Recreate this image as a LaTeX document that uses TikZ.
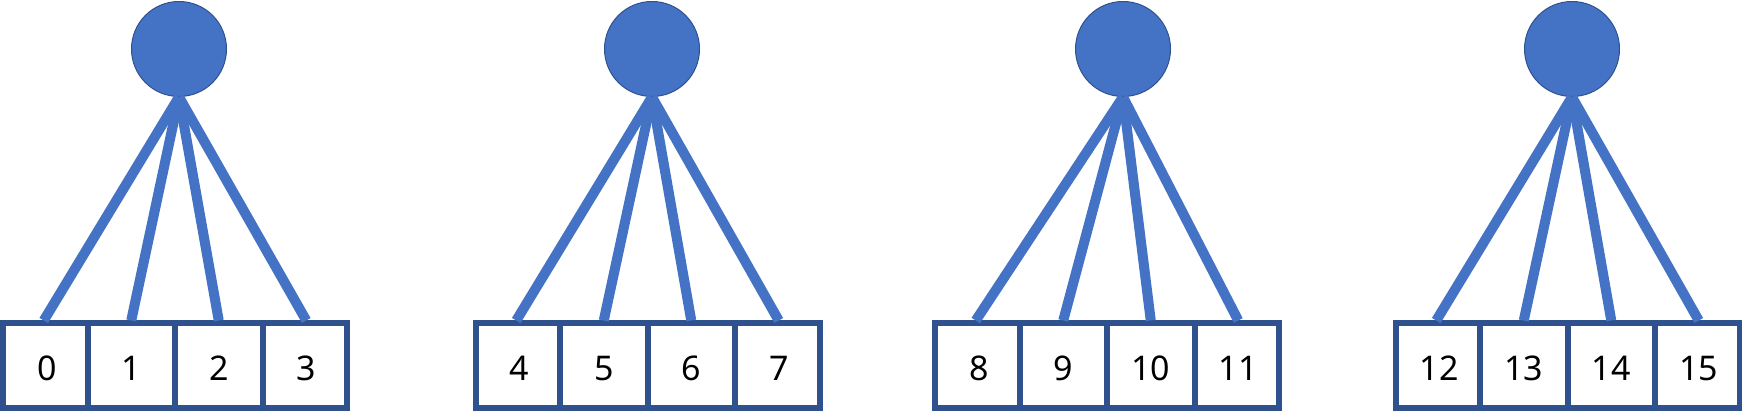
\documentclass[tikz,border=0pt]{standalone}
\usepackage{fontspec}
\setmainfont{Noto Sans}
\usetikzlibrary{shapes.multipart,positioning}
\definecolor{nodeblue}{HTML}{4472C4}
\definecolor{edgeblue}{HTML}{2F528F}
\newcommand\cellstrut{\rule[-28pt]{0pt}{85pt}}

\begin{document}
\begin{tikzpicture}[x=1pt, y=1pt,
    root/.style={circle, fill=nodeblue, draw=edgeblue, line width=1pt,
                 minimum size=95pt, inner sep=0pt},
    arraybox/.style={rectangle split, rectangle split horizontal,
                  rectangle split parts=4, draw=edgeblue, line width=6pt,
                  text width=81.5pt, inner sep=0pt, align=center,
                  font=\fontsize{34}{40}\selectfont},
    link/.style={nodeblue, line width=10pt}]
  \useasboundingbox (0,0) rectangle (1742,411);

  \node (top1) [root] at (179, 362) {};
  \node (top2) [root] at (652, 362) {};
  \node (top3) [root] at (1123, 362) {};
  \node (top4) [root] at (1572, 362) {};

  \node (arr1) [arraybox] at (175, 45)
     {\nodepart{one}\hspace*{6pt}\cellstrut 0\nodepart{two}\cellstrut 1\nodepart{three}\cellstrut 2\nodepart{four}\cellstrut 3};
  \node (arr2) [arraybox] at (647.5, 45)
     {\nodepart{one}\hspace*{6pt}\cellstrut 4\nodepart{two}\cellstrut 5\nodepart{three}\cellstrut 6\nodepart{four}\cellstrut 7};
  \node (arr3) [arraybox] at (1107, 45)
     {\nodepart{one}\hspace*{6pt}\cellstrut 8\nodepart{two}\cellstrut 9\nodepart{three}\cellstrut 10\nodepart{four}\cellstrut 11};
  \node (arr4) [arraybox] at (1567.5, 45)
     {\nodepart{one}\hspace*{6pt}\cellstrut 12\nodepart{two}\cellstrut 13\nodepart{three}\cellstrut 14\nodepart{four}\cellstrut 15};

  \foreach \g in {1,2,3,4}
    \foreach \p in {one north, two north, three north, four north}
      \draw[link] (top\g.south) -- (arr\g.\p);
\end{tikzpicture}
\end{document}
